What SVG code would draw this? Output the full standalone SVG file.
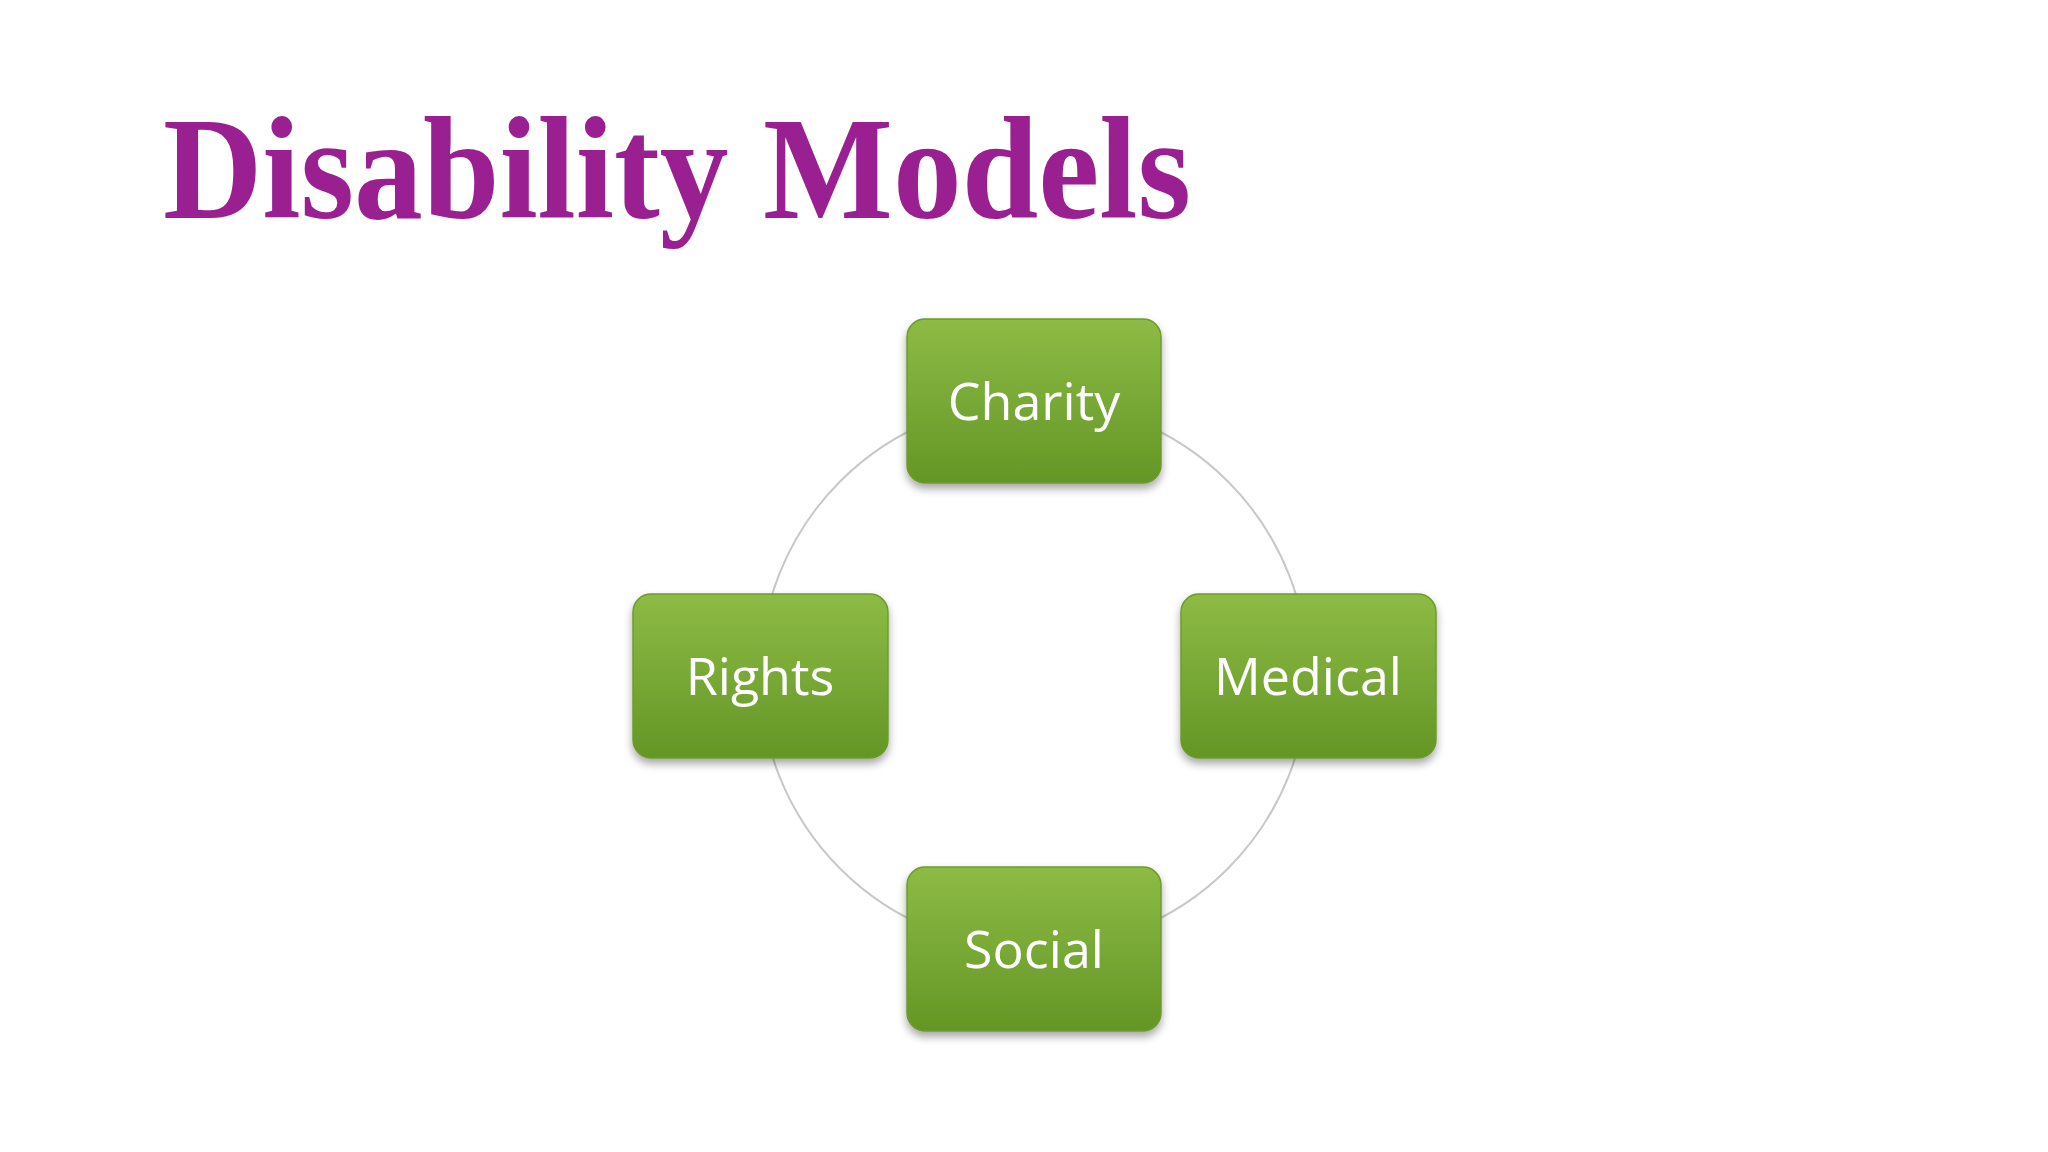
<svg xmlns="http://www.w3.org/2000/svg" width="2048" height="1152" viewBox="0 0 2048 1152">
<style>
.t{font-family:"Liberation Serif",serif;font-weight:bold;font-size:146px;fill:#9A1F91}
.box{fill:url(#g);stroke:#6f9a2c;stroke-width:1.5}
.lbl{font-family:"Open Sans","Liberation Sans",sans-serif;font-size:52px;fill:#ffffff;text-anchor:middle;dominant-baseline:central}
</style>
<defs>
<linearGradient id="g" x1="0" y1="0" x2="0" y2="1">
<stop offset="0" stop-color="#8dbb45"/><stop offset="1" stop-color="#649626"/>
</linearGradient>
<filter id="s" x="-20%" y="-20%" width="140%" height="150%"><feDropShadow dx="0" dy="5" stdDeviation="4" flood-color="#000" flood-opacity="0.35"/></filter>
</defs>
<rect width="2048" height="1152" fill="#fff"/>
<text class="t" x="163" y="218" textLength="1028" lengthAdjust="spacingAndGlyphs">Disability Models</text>
<g id="connectors"><circle cx="1034" cy="675" r="274" fill="none" stroke="#c8c8c8" stroke-width="2"/></g>
<g id="charity" filter="url(#s)"><rect class="box" x="907" y="319" width="254" height="164" rx="18"/><text class="lbl" x="1034" y="399">Charity</text></g>
<g id="rights" filter="url(#s)"><rect class="box" x="633" y="594" width="255" height="164" rx="18"/><text class="lbl" x="760" y="674">Rights</text></g>
<g id="medical" filter="url(#s)"><rect class="box" x="1181" y="594" width="255" height="164" rx="18"/><text class="lbl" x="1308" y="674">Medical</text></g>
<g id="social" filter="url(#s)"><rect class="box" x="907" y="867" width="254" height="164" rx="18"/><text class="lbl" x="1034" y="947">Social</text></g>
</svg>
